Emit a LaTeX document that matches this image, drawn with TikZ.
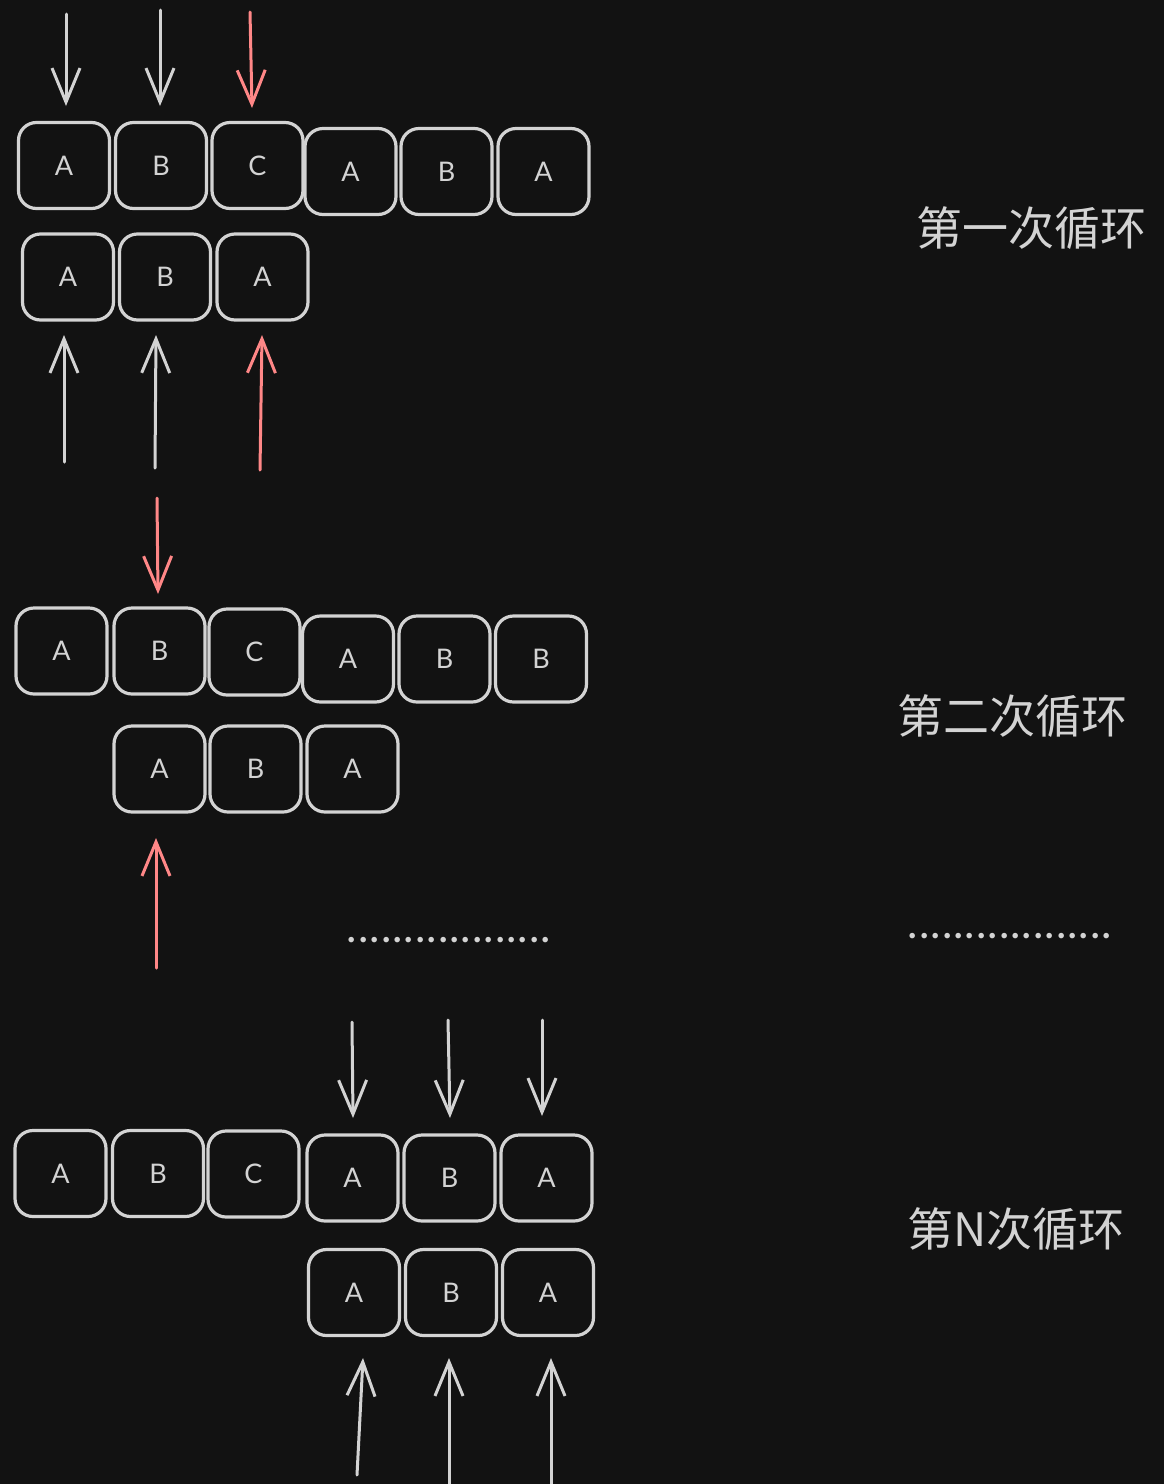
\documentclass[tikz,border=0pt]{standalone}
\usepackage{fontspec}
\setmainfont{Lato}
\newfontfamily\cjk{Noto Sans CJK SC}
\usetikzlibrary{arrows.meta}
\definecolor{bgdark}{HTML}{121212}
\definecolor{chalk}{HTML}{D3D3D3}
\definecolor{redpen}{HTML}{FF8787}
\newcommand\dotcell{\makebox[11.4pt]{.}}
\newcommand\dotrow{\dotcell\dotcell\dotcell\dotcell\dotcell\dotcell\dotcell\dotcell\dotcell\dotcell\dotcell\dotcell\dotcell\dotcell\dotcell\dotcell\dotcell\dotcell}

\begin{document}
\begin{tikzpicture}[x=1pt,y=-1pt,
  cell/.style={draw=chalk,line width=3.2pt,rounded corners=18pt,minimum width=91pt,minimum height=86pt,inner sep=0pt,text=chalk,font=\fontsize{27}{30}\selectfont},
  ptr/.style={draw=chalk,line width=3pt,line cap=round,-{Straight Barb[length=34pt,width=28pt]}},
  redptr/.style={ptr,draw=redpen},
  lap/.style={text=chalk,font=\cjk\fontsize{46}{50}\selectfont},
  gap/.style={text=chalk,inner sep=0pt,font=\fontsize{44}{46}\selectfont}]
  \useasboundingbox (0,0) rectangle (1164,1484);
  \fill[bgdark] (0,0) rectangle (1164,1484);

  % first loop
  \node[cell] (s1a) at (64,165.5) {A};
  \node[cell] (s1b) at (161,165.5) {B};
  \node[cell] (s1c) at (257.5,165.5) {C};
  \node[cell] (s1d) at (350.5,171.5) {A};
  \node[cell] (s1e) at (446.5,171.5) {B};
  \node[cell] (s1f) at (543.5,171.5) {A};

  \node[cell] (m1a) at (68,277) {A};
  \node[cell] (m1b) at (165,277) {B};
  \node[cell] (m1c) at (262.5,277) {A};

  \coordinate (i1a) at (66,14);   \coordinate (i1a') at (66,106);
  \coordinate (i1b) at (160,10);  \coordinate (i1b') at (160,106);
  \coordinate (i1c) at (250,12);  \coordinate (i1c') at (252,108);
  \draw[ptr] (i1a) -- (i1a');
  \draw[ptr] (i1b) -- (i1b');
  \draw[redptr] (i1c) -- (i1c');

  \coordinate (j1a) at (64,462);  \coordinate (j1a') at (64,335);
  \coordinate (j1b) at (155,468); \coordinate (j1b') at (156,335);
  \coordinate (j1c) at (260,470); \coordinate (j1c') at (262,335);
  \draw[ptr] (j1a) -- (j1a');
  \draw[ptr] (j1b) -- (j1b');
  \draw[redptr] (j1c) -- (j1c');

  \node[lap] (lap1) at (1031,228) {第一次循环};

  % second loop
  \coordinate (i2) at (157,498); \coordinate (i2') at (158,594);
  \draw[redptr] (i2) -- (i2');

  \node[cell] (s2a) at (61.5,651) {A};
  \node[cell] (s2b) at (159.5,651) {B};
  \node[cell] (s2c) at (254.5,652) {C};
  \node[cell] (s2d) at (348,659) {A};
  \node[cell] (s2e) at (444.5,659) {B};
  \node[cell] (s2f) at (541,659) {B};

  \node[cell] (m2a) at (159.5,769) {A};
  \node[cell] (m2b) at (255.5,769) {B};
  \node[cell] (m2c) at (352.5,769) {A};

  \coordinate (j2) at (156,968); \coordinate (j2') at (156,838);
  \draw[redptr] (j2) -- (j2');

  \node[lap] (lap2) at (1012,716) {第二次循环};

  \node[gap] (gap1) at (449,940) {\dotrow};
  \node[gap] (gap2) at (1010,936) {\dotrow};

  % N-th loop
  \coordinate (i3a) at (352,1022); \coordinate (i3a') at (353,1118);
  \coordinate (i3b) at (448,1020); \coordinate (i3b') at (450,1118);
  \coordinate (i3c) at (542,1020); \coordinate (i3c') at (542,1116);
  \draw[ptr] (i3a) -- (i3a');
  \draw[ptr] (i3b) -- (i3b');
  \draw[ptr] (i3c) -- (i3c');

  \node[cell] (s3a) at (60.5,1173.5) {A};
  \node[cell] (s3b) at (158,1173.5) {B};
  \node[cell] (s3c) at (253.5,1174) {C};
  \node[cell] (s3d) at (352.5,1178) {A};
  \node[cell] (s3e) at (449.5,1178) {B};
  \node[cell] (s3f) at (546.5,1178) {A};

  \node[cell] (m3a) at (354,1292.5) {A};
  \node[cell] (m3b) at (451,1292.5) {B};
  \node[cell] (m3c) at (548,1292.5) {A};

  \coordinate (j3a) at (357,1475); \coordinate (j3a') at (363,1358);
  \coordinate (j3b) at (449,1486); \coordinate (j3b') at (449,1358);
  \coordinate (j3c) at (551,1486); \coordinate (j3c') at (551,1358);
  \draw[ptr] (j3a) -- (j3a');
  \draw[ptr] (j3b) -- (j3b');
  \draw[ptr] (j3c) -- (j3c');

  \node[lap] (lap3) at (1016,1229) {第N次循环};
\end{tikzpicture}
\end{document}
